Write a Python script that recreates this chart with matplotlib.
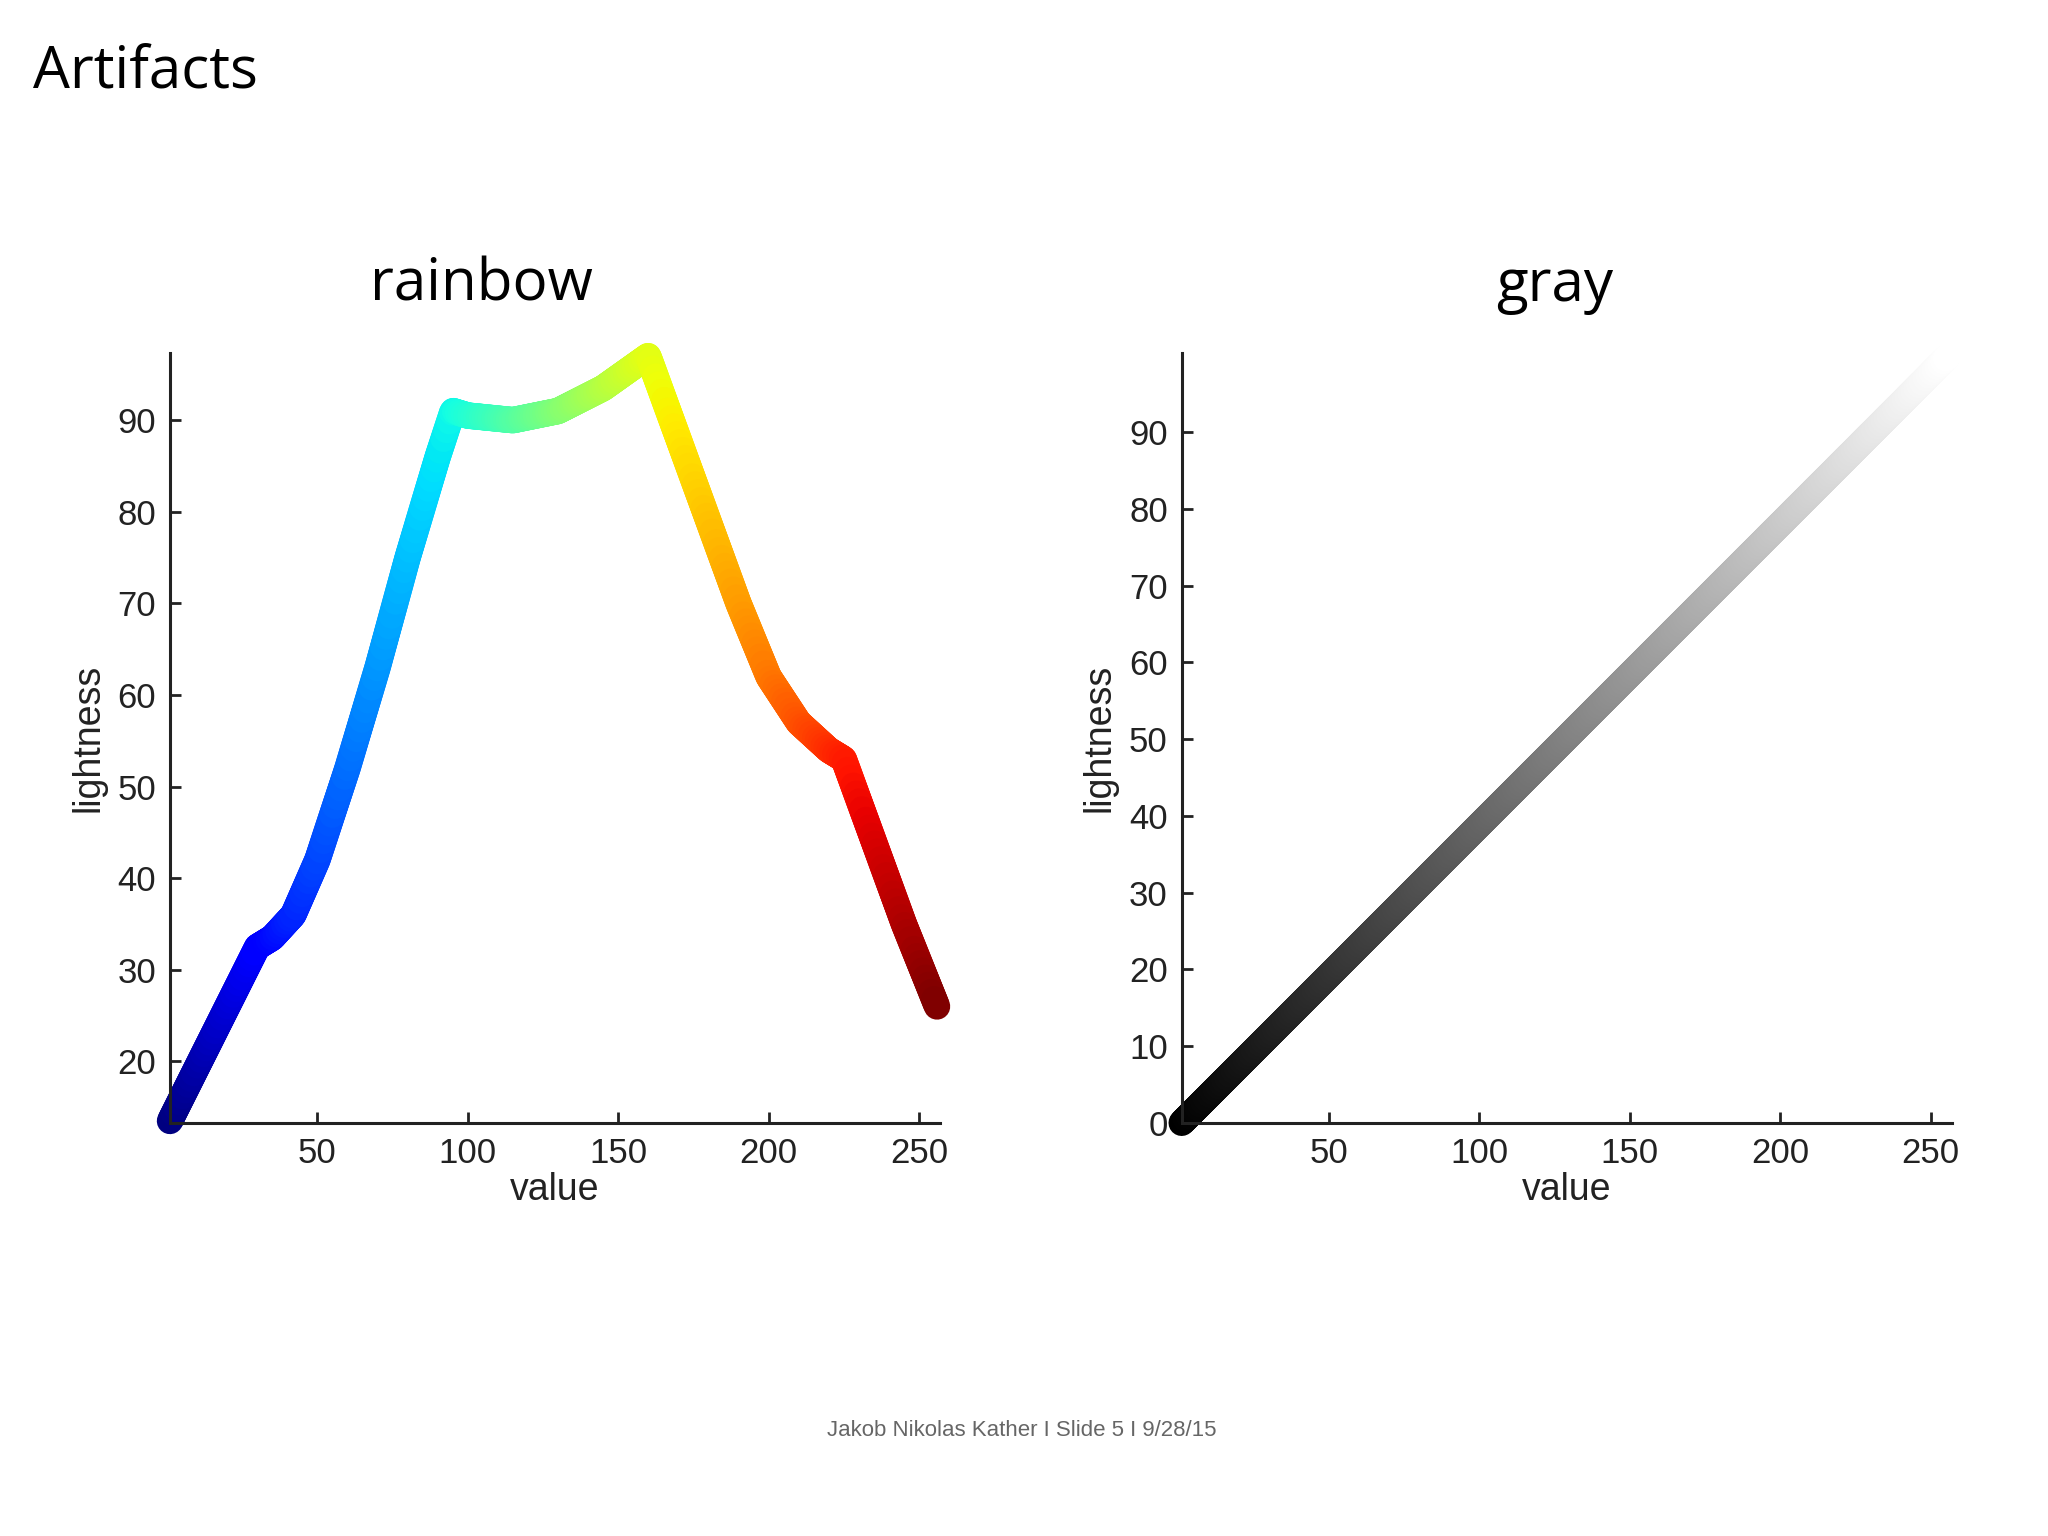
import matplotlib
matplotlib.use("Agg")
import matplotlib.pyplot as plt
import numpy as np
from matplotlib.collections import LineCollection

# rainbow (jet) lightness profile
rain_x = [1, 30, 35, 42, 50, 60, 70, 80, 90, 95, 100, 115, 130, 145, 160,
          170, 180, 190, 200, 210, 220, 225, 235, 245, 256]
rain_y = [13.5, 32.5, 33.5, 36, 42, 52, 63, 75, 86, 91, 90.5, 90, 91, 93.5, 97,
          88, 79, 70, 62, 57, 54, 53, 44, 35, 26]
# gray lightness profile
gray_x = [1, 256]
gray_y = [0, 100]

rain_yticks = [20, 30, 40, 50, 60, 70, 80, 90]
gray_yticks = [0, 10, 20, 30, 40, 50, 60, 70, 80, 90]
xticks = [50, 100, 150, 200, 250]


def gradient_line(ax, xs, ys, cmap, lw):
    # split the polyline into short pieces so each can take its own colour
    t = np.linspace(xs[0], xs[-1], 800)
    yy = np.interp(t, xs, ys)
    pts = np.column_stack([t, yy]).reshape(-1, 1, 2)
    segs = np.concatenate([pts[:-1], pts[1:]], axis=1)
    lc = LineCollection(segs, cmap=cmap, linewidth=lw, capstyle="round",
                        joinstyle="round", clip_on=False)
    lc.set_array((t[:-1] - xs[0]) / (xs[-1] - xs[0]))
    lc.set_clim(0, 1)
    ax.add_collection(lc)


def style(ax, yticks, ylim):
    ax.set_xlim(1, 257)
    ax.set_ylim(*ylim)
    ax.set_xticks(xticks)
    ax.set_yticks(yticks)
    for s in ("top", "right"):
        ax.spines[s].set_visible(False)
    for s in ("left", "bottom"):
        ax.spines[s].set_linewidth(2.2)
        ax.spines[s].set_color("#222222")
    ax.tick_params(direction="in", length=8, width=2, labelsize=25,
                   colors="#222222", pad=10)
    ax.set_xlabel("value", fontsize=27, color="#222222", labelpad=2)
    ax.set_ylabel("lightness", fontsize=27, color="#222222", labelpad=8)


fig = plt.figure(figsize=(20.48, 15.36), dpi=100)
plt.rcParams["font.family"] = ["Liberation Sans", "DejaVu Sans"]

ax1 = fig.add_axes([0.083, 0.269, 0.376, 0.501])
gradient_line(ax1, rain_x, rain_y, "jet", 19)
style(ax1, rain_yticks, (13.3, 97.3))

ax2 = fig.add_axes([0.577, 0.269, 0.376, 0.501])
gradient_line(ax2, gray_x, gray_y, "gray", 19)
style(ax2, gray_yticks, (0, 100.3))

fig.text(0.016, 0.952, "Artifacts", fontsize=42, family="Open Sans",
         va="center", ha="left")
fig.text(0.235, 0.814, "rainbow", fontsize=42, family="Open Sans",
         ha="center", va="center")
fig.text(0.759, 0.814, "gray", fontsize=42, family="Open Sans",
         ha="center", va="center")
fig.text(0.499, 0.069, "Jakob Nikolas Kather I Slide 5 I 9/28/15",
         fontsize=16, color="#666666", ha="center", va="center")

fig.savefig("out.png", dpi=100)
